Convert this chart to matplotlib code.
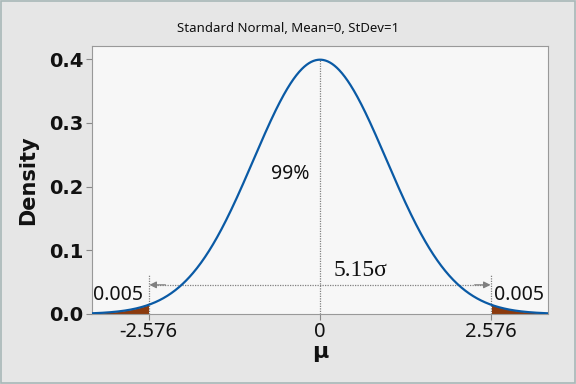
import numpy as np
import matplotlib
matplotlib.use("Agg")
import matplotlib.pyplot as plt
from matplotlib.patches import Rectangle

# Data
mean = 0.0
sd = 1.0
z_crit = 2.576
tail_area = "0.005"
center_label = "99%"
width_label = "5.15σ"
xtick_vals = [-2.576, 0, 2.576]
xtick_labels = ["-2.576", "0", "2.576"]
ytick_vals = [0.0, 0.1, 0.2, 0.3, 0.4]
ytick_labels = ["0.0", "0.1", "0.2", "0.3", "0.4"]

x = np.linspace(-3.43, 3.43, 800)
pdf = np.exp(-0.5 * ((x - mean) / sd) ** 2) / (sd * np.sqrt(2 * np.pi))

def dens(v):
    return np.exp(-0.5 * ((v - mean) / sd) ** 2) / (sd * np.sqrt(2 * np.pi))

plt.rcParams['font.family'] = ['Noto Sans', 'DejaVu Sans']

fig = plt.figure(figsize=(5.76, 3.84), dpi=100, facecolor="#e6e6e6")
ax = fig.add_axes([0.1597, 0.1823, 0.7917, 0.6979], facecolor="#f7f7f7")

blue = "#0a5aa5"
brown = "#8b3a0e"
gray = "#808080"

# tails
ml = x <= -z_crit
mr = x >= z_crit
ax.fill_between(x[ml], 0, pdf[ml], color=brown, lw=0, zorder=2)
ax.fill_between(x[mr], 0, pdf[mr], color=brown, lw=0, zorder=2)

ax.plot(x, pdf, color=blue, lw=1.6, zorder=3)

# reference lines
ax.plot([mean, mean], [0, dens(mean)], color=gray, lw=0.9, ls=(0, (1, 1)), zorder=1)
ax.plot([-z_crit, -z_crit], [0, 0.061], color=gray, lw=0.9, ls=(0, (1, 1)), zorder=1)
ax.plot([z_crit, z_crit], [0, 0.061], color=gray, lw=0.9, ls=(0, (1, 1)), zorder=1)
ax.plot([-z_crit + 0.05, z_crit - 0.05], [0.0457, 0.0457], color=gray, lw=0.9,
        ls=(0, (1, 1)), zorder=1)
ax.annotate("", xy=(-z_crit + 0.01, 0.0457), xytext=(-z_crit + 0.25, 0.0457),
            arrowprops=dict(arrowstyle="-|>", color=gray, lw=0.9, mutation_scale=10,
                            shrinkA=0, shrinkB=0))
ax.annotate("", xy=(z_crit - 0.01, 0.0457), xytext=(z_crit - 0.25, 0.0457),
            arrowprops=dict(arrowstyle="-|>", color=gray, lw=0.9, mutation_scale=10,
                            shrinkA=0, shrinkB=0))

# texts
ax.text(-0.16, 0.219, center_label, ha="right", va="center", fontsize=14, color="#111111")
ax.text(0.61, 0.069, width_label, ha="center", va="center", fontsize=17,
        family="Liberation Serif", color="#111111")
ax.text(-3.41, 0.030, tail_area, ha="left", va="center", fontsize=14, color="#111111")
ax.text(2.62, 0.030, tail_area, ha="left", va="center", fontsize=14, color="#111111")

ax.set_xlim(-3.43, 3.43)
ax.set_ylim(0, 0.4204)
ax.set_xticks(xtick_vals)
ax.set_xticklabels(xtick_labels, fontsize=14.5)
ax.set_yticks(ytick_vals)
ax.set_yticklabels(ytick_labels, fontsize=14, fontweight="semibold", family="DejaVu Sans")
ax.tick_params(axis="both", direction="out", length=4, width=0.8, color="#888888",
               labelcolor="#111111", pad=2)

for s in ax.spines.values():
    s.set_color("#999999")
    s.set_linewidth(0.8)

ax.set_ylabel("Density", fontsize=15, fontweight="semibold", family="DejaVu Sans",
              labelpad=8, color="#111111")
ax.set_xlabel("μ", fontsize=16, fontweight="bold", family="DejaVu Sans",
              labelpad=0, color="#111111")
fig.text(0.5, 0.927, "Standard Normal, Mean=0, StDev=1", ha="center", va="center",
         fontsize=9.5, color="#111111")

fig.patches.append(Rectangle((0.002, 0.003), 0.996, 0.994, transform=fig.transFigure,
                             fill=False, edgecolor="#a8b8b8", lw=1.2))

fig.savefig("out.png", dpi=100, facecolor=fig.get_facecolor())
